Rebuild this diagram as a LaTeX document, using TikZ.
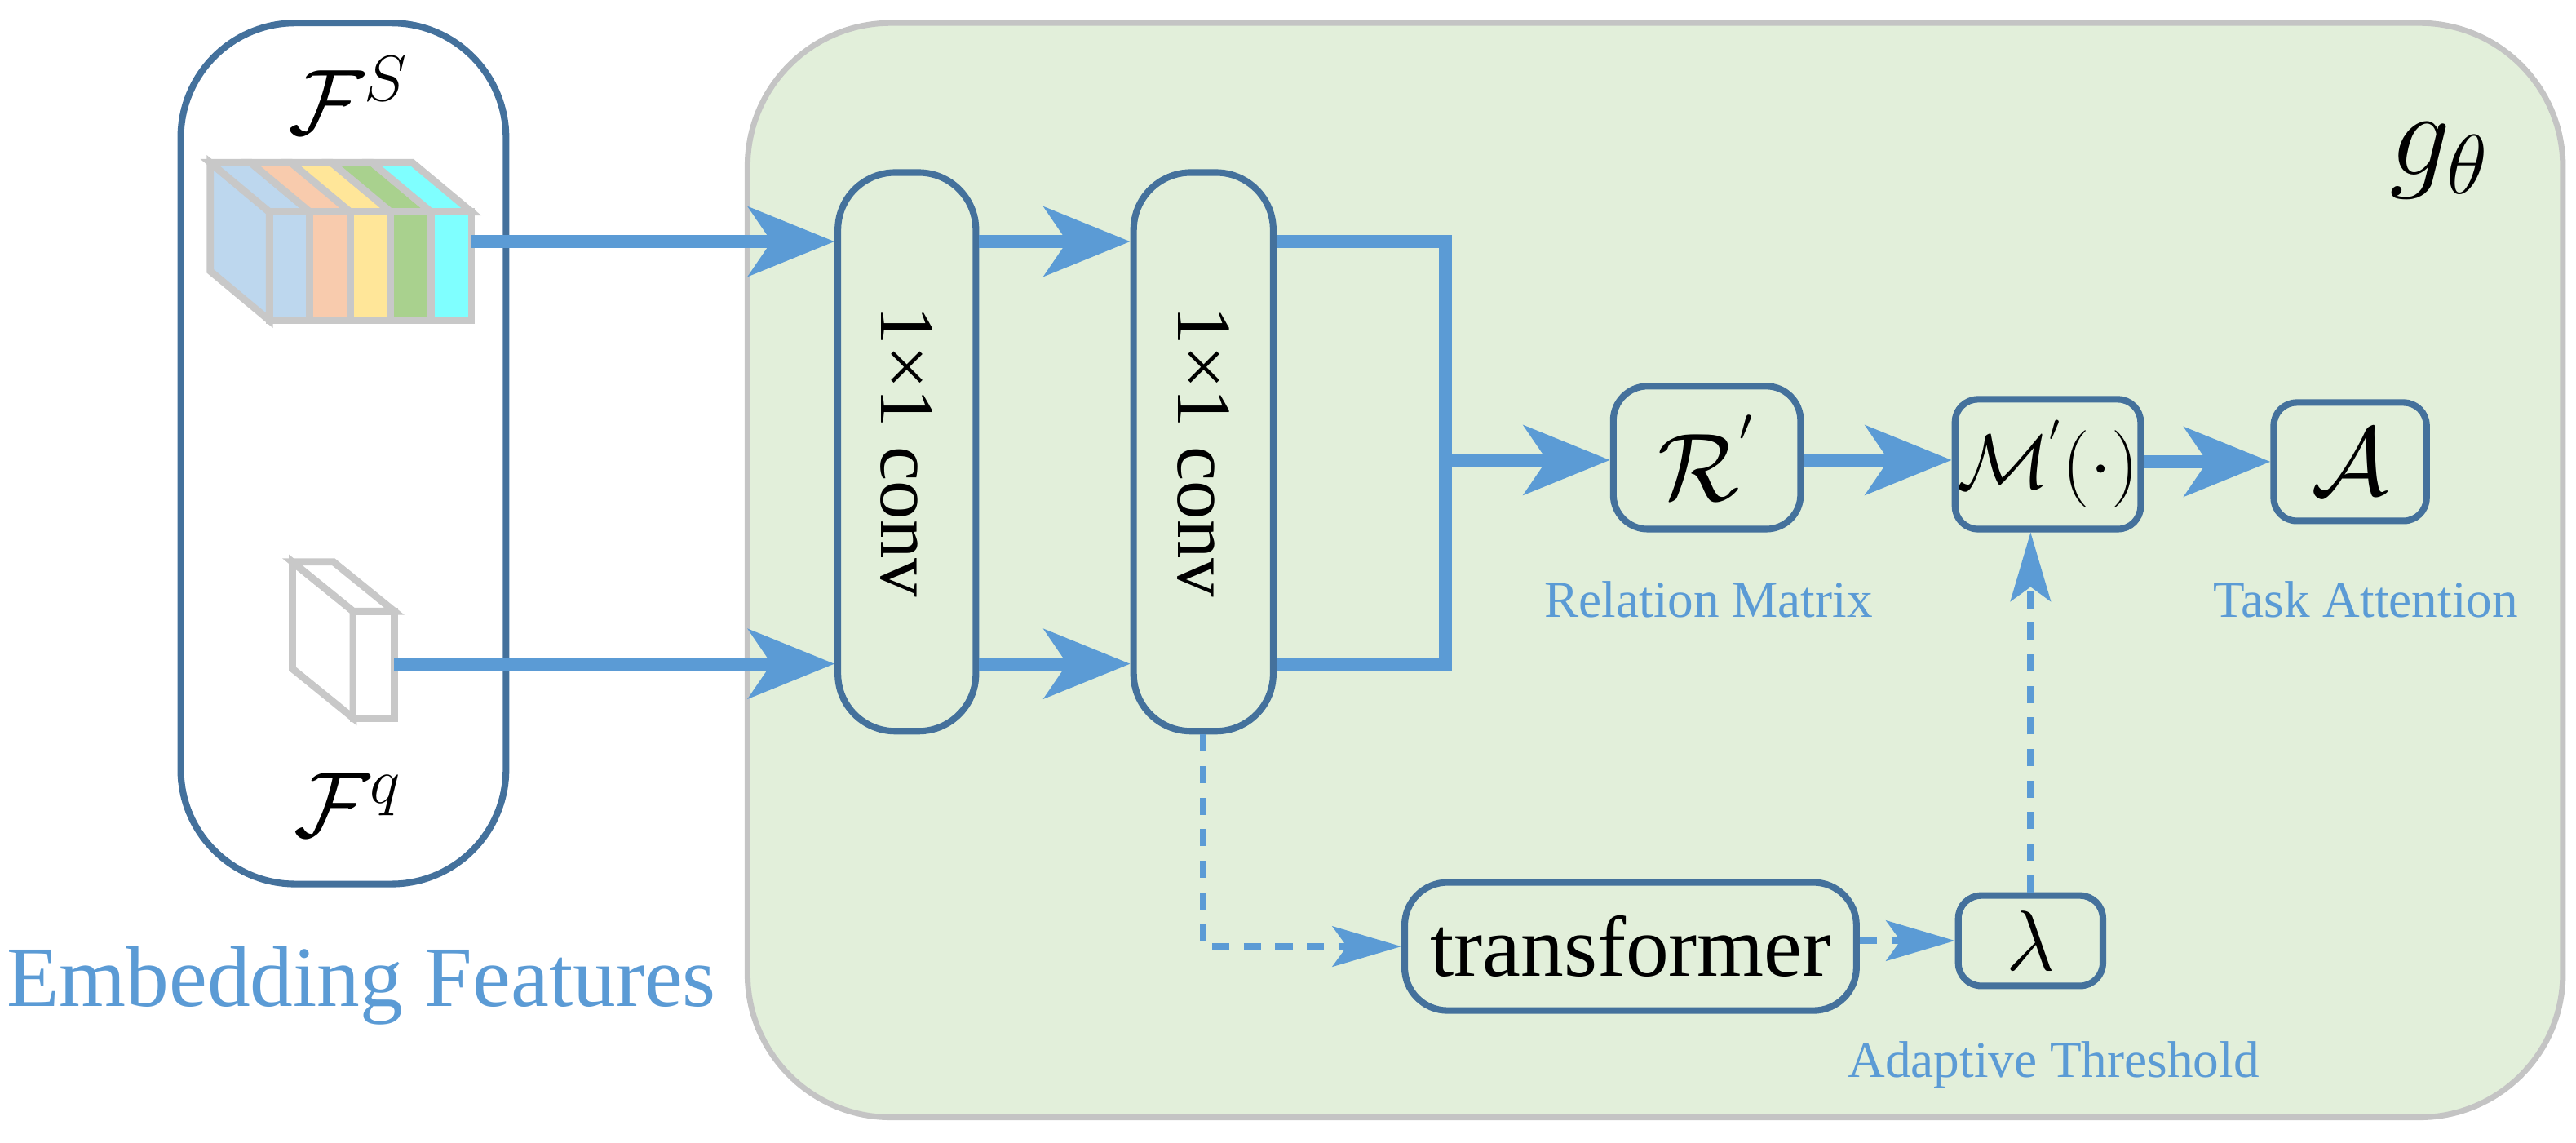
\documentclass[tikz,border=0pt]{standalone}
\usepackage{graphicx}
\usepackage{fontspec}
\setmainfont{Liberation Serif}
\usetikzlibrary{arrows.meta}
\definecolor{dk}{HTML}{44719C}
\definecolor{lb}{HTML}{5B9BD5}
\definecolor{gfill}{HTML}{E2EFDA}
\definecolor{gbord}{HTML}{C4C4C4}
\definecolor{cgray}{HTML}{C8C8C8}
\def\u{0.02014cm}
\newcommand{\scmath}[2]{\scalebox{#1}{$#2$}}
\tikzset{
 blk/.style n args={3}{draw=dk,line width=2.3pt,rounded corners=#1,fill=gfill,
   minimum width=#2*\u,minimum height=#3*\u,inner sep=0pt},
 arr/.style={draw=lb,line width=4.6pt,-{Stealth[length=30pt,width=24pt,inset=8pt]}},
 ln/.style={draw=lb,line width=4.6pt},
 darr/.style={draw=lb,line width=2.3pt,dash pattern=on 6pt off 5pt,-{Stealth[length=24pt,width=14pt,inset=5pt]}},
 lab/.style={text=lb,font=\fontsize{18}{20}\selectfont},
 mth/.style={font=\fontsize{24}{26}\selectfont},
 face/.style={draw=cgray,line width=2.5pt,line join=miter}
}
\begin{document}
\begin{tikzpicture}[x=0.02014cm,y=-0.02014cm]
\useasboundingbox (0,0) rectangle (1568,695.6);
% left box
\draw[dk,line width=2.3pt,rounded corners=40pt,fill=white] (110,14) rectangle (308,538);
% green panel
\draw[gbord,line width=2pt,rounded corners=50pt,fill=gfill] (455,14) rectangle (1560,680);
\node[mth] (gt) at (1485,98) {\scmath{1.7}{g_{\theta}}};
\node[mth] (fs) at (212,58) {\scmath{1.3}{\mathcal{F}^{S}}};
\node[mth] (fq) at (212,490) {\scmath{1.3}{\mathcal{F}^{q}}};
\node[text=lb,font=\fontsize{30}{32}\selectfont] (emb) at (220,600) {Embedding Features};
% support cube
\draw[face,fill={rgb,255:red,189;green,215;blue,238}] (128,99) -- (164,129) -- (164,195) -- (128,165) -- cycle;
\foreach \i/\c in {0/BDD7EE,1/F8CBAD,2/FFE699,3/A9D18E,4/7FFFFF}{
  \pgfmathsetmacro{\xa}{164+\i*24.6}
  \pgfmathsetmacro{\xb}{164+(\i+1)*24.6}
  \definecolor{cc}{HTML}{\c}
  \draw[face,fill=cc] (\xa,129) -- (\xa-36,99) -- (\xb-36,99) -- (\xb,129) -- cycle;
  \draw[face,fill=cc] (\xa,129) rectangle (\xb,195);
}
\coordinate (cs) at (287,147);
% query cube
\draw[face,fill=white] (178,342) -- (215,372) -- (215,437) -- (178,407) -- cycle;
\draw[face,fill=white] (178,342) -- (203,342) -- (240,372) -- (215,372) -- cycle;
\draw[face,fill=white] (215,372) rectangle (240,437);
\coordinate (cq) at (240,404);
% convs
\node[blk={20pt}{84}{340}] (c1) at (552,275) {};
\node[blk={20pt}{85}{340}] (c2) at (732.5,275) {};
\node[rotate=-90,font=\fontsize{27}{29}\selectfont] (t1) at (c1) {1×1 conv};
\node[rotate=-90,font=\fontsize{27}{29}\selectfont] (t2) at (c2) {1×1 conv};
\draw[arr] (cs) -- (c1.west |- cs);
\draw[arr] (cq) -- (c1.west |- cq);
\draw[arr] (c1.east |- cs) -- (c2.west |- cs);
\draw[arr] (c1.east |- cq) -- (c2.west |- cq);
\coordinate (jt) at (880,147);
\coordinate (jb) at (880,404);
\coordinate (mid) at (880,280);
\draw[ln,line join=miter] (c2.east |- cs) -- (jt) -- (jb) -- (c2.east |- cq);
% boxes
\node[blk={12pt}{114}{87},mth] (R) at (1039,278.5) {\scmath{1.35}{\mathcal{R}^{'}}};
\node[blk={8pt}{113}{79},mth] (M) at (1246.5,282.5) {\scmath{1.08}{\mathcal{M}^{'}(\cdot)}};
\node[blk={8pt}{93}{72},mth] (A) at (1430.5,281) {\scmath{1.35}{\mathcal{A}}};
\draw[arr] (mid) -- (R.west |- mid);
\draw[arr] (R.east |- mid) -- (M.west |- mid);
\draw[arr] (M.east |- A) -- (A.west);
\node[lab] (rm) at (1040,365) {Relation Matrix};
\node[lab] (ta) at (1440,365) {Task Attention};
% transformer
\node[blk={15pt}{275}{78},font=\fontsize{30}{32}\selectfont] (tr) at (992.5,576) {transformer};
\node[blk={8pt}{88}{55},mth] (lam) at (1236,572.5) {\scmath{1.2}{\lambda}};
\node[lab] (at) at (1250,648) {Adaptive Threshold};
\draw[darr] (c2.south) |- (tr.west);
\draw[darr] (tr.east |- lam) -- (lam.west);
\draw[darr] (lam.north) -- (lam.north |- M.south);
\end{tikzpicture}
\end{document}
